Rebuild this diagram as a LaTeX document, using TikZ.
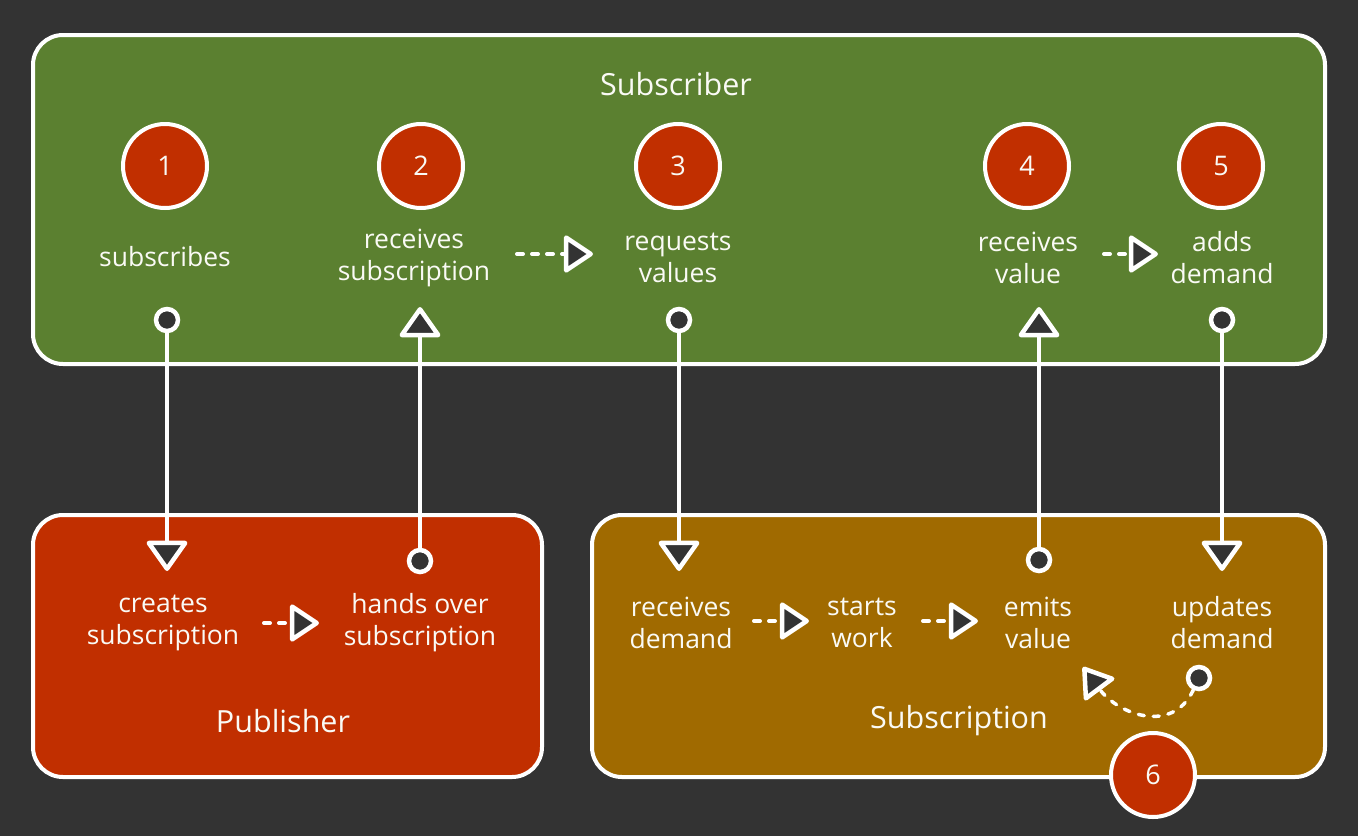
\documentclass[tikz,border=0pt]{standalone}
\usepackage{fontspec}
\setmainfont{Open Sans}
\usetikzlibrary{arrows.meta}
\definecolor{bg}{RGB}{51,51,51}
\definecolor{subgreen}{RGB}{91,128,48}
\definecolor{pubred}{RGB}{193,47,0}
\definecolor{subochre}{RGB}{160,106,0}
\definecolor{txt}{RGB}{250,250,245}
\tikzset{
  box/.style={draw=white, line width=4pt, rounded corners=30pt, inner sep=0pt},
  title/.style={text=txt, font=\fontsize{30.5}{36}\selectfont},
  label/.style={text=txt, align=center, inner sep=0pt, font=\fontsize{26.5}{32}\selectfont},
  numc/.style={circle, draw=white, line width=4pt, fill=pubred, minimum size=84pt, inner sep=0pt, text=txt, font=\fontsize{27}{30}\selectfont},
  dot/.style={circle, draw=white, line width=4.5pt, fill=bg, minimum size=22pt, inner sep=0pt},
  tipstyle/.style={-{Triangle[length=32pt,width=44pt,fill=bg,round,line width=4.5pt]}},
  vconn/.style={draw=white, line width=3.5pt, tipstyle},
  flow/.style={draw=white, line width=4pt, line cap=round, dash pattern=on 6pt off 9pt, -{Triangle[length=31pt,width=40pt,fill=bg,round,line width=4.5pt]}}
}
\begin{document}
\begin{tikzpicture}[x=1pt,y=-1pt]
\fill[bg] (0,0) rectangle (1358,836);
\useasboundingbox (0,0) rectangle (1358,836);

% boxes
\node[box, fill=subgreen, minimum width=1292pt, minimum height=329pt] (subscriber) at (679,199.5) {};
\node[box, fill=pubred, minimum width=509pt, minimum height=262pt] (publisher) at (287.5,646) {};
\node[box, fill=subochre, minimum width=733pt, minimum height=262pt] (subscription) at (958.5,646) {};

% titles
\node[title] (tsubscriber) at (676,84) {Subscriber};
\node[title] (tpublisher) at (283,721) {Publisher};
\node[title] (tsubscription) at (959,721) {Subscription};

% numbered circles
\node[numc] (n1) at (165,166) {1};
\node[numc] (n2) at (421,166) {2};
\node[numc] (n3) at (678,166) {3};
\node[numc] (n4) at (1027,166) {4};
\node[numc] (n5) at (1221,166) {5};

% top labels
\node[label] (l1) at (165,257) {subscribes};
\node[label] (l2) at (414,258) {receives\\subscription};
\node[label] (l3) at (678,258) {requests\\values};
\node[label] (l4) at (1028,258) {receives\\value};
\node[label] (l5) at (1222,258) {adds\\demand};

% bottom labels
\node[label] (b1) at (163,623) {creates\\subscription};
\node[label] (b2) at (420,623) {hands over\\subscription};
\node[label] (b3) at (681,623) {receives\\demand};
\node[label] (b4) at (862,623) {starts\\work};
\node[label] (b5) at (1038,623) {emits\\value};
\node[label] (b6) at (1222,623) {updates\\demand};

% dashed flow arrows
\coordinate (f1a) at (517,254); \coordinate (f1b) at (593,254);
\coordinate (f2a) at (1104,254); \coordinate (f2b) at (1158,254);
\coordinate (f3a) at (264,623); \coordinate (f3b) at (319,623);
\coordinate (f4a) at (754,621); \coordinate (f4b) at (809,621);
\coordinate (f5a) at (923,621); \coordinate (f5b) at (978,621);
\draw[flow] (f1a) -- (f1b);
\draw[flow] (f2a) -- (f2b);
\draw[flow] (f3a) -- (f3b);
\draw[flow] (f4a) -- (f4b);
\draw[flow] (f5a) -- (f5b);

% vertical connectors
\node[dot] (d1) at (167,320) {};
\coordinate (t1) at (167,571);
\draw[vconn] (d1) -- (t1);
\node[dot] (d2) at (420,561) {};
\coordinate (t2) at (420,307);
\draw[vconn] (d2) -- (t2);
\node[dot] (d3) at (679,320) {};
\coordinate (t3) at (679,571);
\draw[vconn] (d3) -- (t3);
\node[dot] (d4) at (1039,560) {};
\coordinate (t4) at (1039,307);
\draw[vconn] (d4) -- (t4);
\node[dot] (d5) at (1222,320) {};
\coordinate (t5) at (1222,571);
\draw[vconn] (d5) -- (t5);

% curved loop arrow
\node[dot] (d6) at (1199,678) {};
\coordinate (t6) at (1083,667);
\draw[flow, line width=3.5pt, dash pattern=on 6pt off 9pt] (d6) .. controls (1172,735) and (1118,714) .. (t6);

\node[numc] (n6) at (1153,775) {6};
\end{tikzpicture}
\end{document}
